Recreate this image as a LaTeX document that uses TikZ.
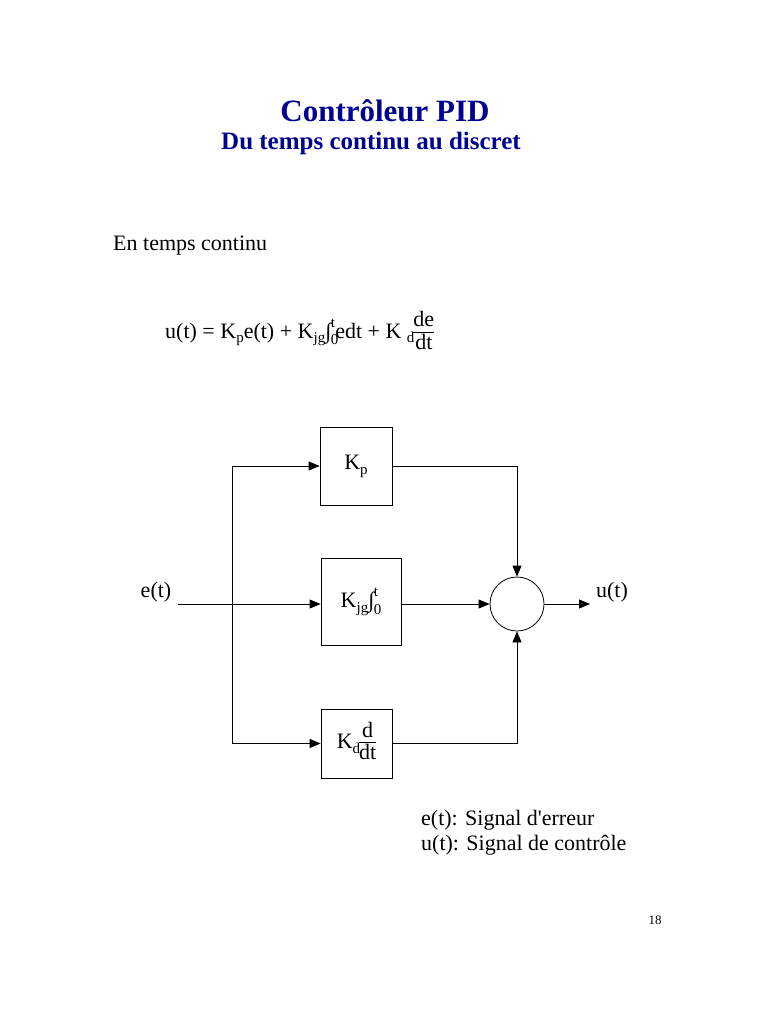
\documentclass[tikz,border=0pt]{standalone}
\usepackage{fontspec}
\setmainfont{Liberation Serif}
\usetikzlibrary{arrows.meta,positioning}
\definecolor{titleblue}{RGB}{0,0,145}
\newcommand{\lo}[1]{\raisebox{-0.22em}{\fontsize{15}{17}\selectfont #1}}
\newcommand{\intzt}{\char"222B\kern-0.5pt\rlap{\raisebox{0.5em}{\fontsize{15}{17}\selectfont t}}\raisebox{-0.3em}{\fontsize{15}{17}\selectfont 0}}
\newcommand{\fr}[2]{\ensuremath{\vcenter{\hbox{\begin{tabular}{@{}c@{}}#1\\[-3pt]\hline\noalign{\vskip-1pt}#2\end{tabular}}}}}
\begin{document}
\begin{tikzpicture}[x=1pt,y=-1pt,font=\fontsize{22}{26}\selectfont]
    \tikzstyle{block} = [rectangle, draw, line width=0.8pt, inner sep=0pt]
    \tikzstyle{arrow} = [line width=0.8pt,->,>={Triangle[length=11pt,width=9pt]}]
    \useasboundingbox (0,0) rectangle (768,1024);

    % titles
    \node [font=\fontsize{31}{34}\selectfont\bfseries, text=titleblue] (title) at (385,111) {Contrôleur PID};
    \node [font=\fontsize{25}{28}\selectfont\bfseries, text=titleblue] (subtitle) at (371,143) {Du temps continu au discret};

    \node [anchor=base west, inner sep=0pt] (cont) at (113,250) {En temps continu};
    \node [anchor=base west, inner sep=0pt] (eq) at (165,338) {u(t) = K\lo{p}e(t) + K\lo{jg}\intzt\kern-3pt edt + K\ \lo{d}\kern-1pt\fr{de}{dt}};

    % blocks
    \node [block, minimum width=72pt, minimum height=78pt] (kp) at (356,466) {K\lo{p}};
    \node [block, minimum width=80pt, minimum height=87pt] (ki) at (361,602) {K\lo{jg}\intzt};
    \node [block, minimum width=71pt, minimum height=69pt] (kd) at (356.5,743.5) {K\lo{d}\kern-1pt\fr{d}{dt}};
    \node [circle, draw, line width=0.8pt, minimum size=54pt, inner sep=0pt] (sum) at (517,604) {};

    \coordinate (in) at (178,604);
    \coordinate (split) at (232,604);
    \coordinate (out) at (590,604);
    \node (e) at (156,592) {e(t)};
    \node (u) at (612,592) {u(t)};

    \draw [arrow] (in) -- (ki.west |- in);
    \draw [arrow] (split) |- (kp.west);
    \draw [arrow] (split) |- (kd.west);
    \draw [arrow] (kp.east) -| (sum.north);
    \draw [arrow] (ki.east |- sum) -- (sum.west);
    \draw [arrow] (kd.east) -| (sum.south);
    \draw [arrow] (sum.east) -- (out);

    % legend
    \node [anchor=base west, inner sep=0pt] (le) at (421,825) {e(t): Signal d\textquotesingle erreur};
    \node [anchor=base west, inner sep=0pt] (lu) at (421,850) {u(t): Signal de contrôle};
    \node [font=\fontsize{13}{15}\selectfont] (page) at (655,920) {18};
\end{tikzpicture}
\end{document}
